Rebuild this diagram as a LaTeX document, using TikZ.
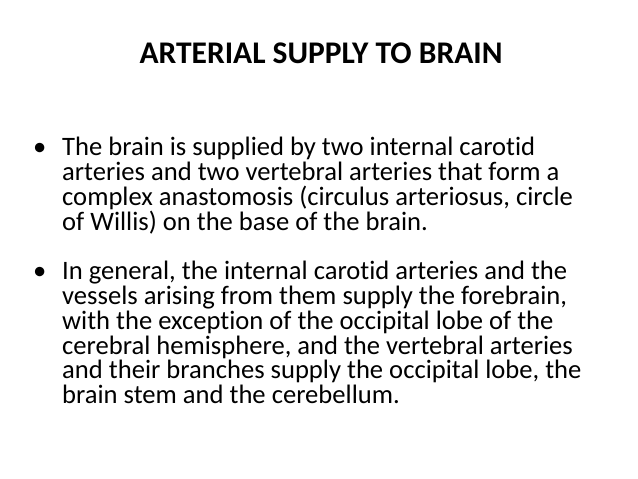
\documentclass[tikz,border=0pt]{standalone}
\usepackage{fontspec}
\setmainfont{Carlito}[RawFeature=-liga]
\begin{document}
\begin{tikzpicture}[x=1pt,y=-1pt,
  ln/.style={anchor=base west,inner sep=0,font=\fontsize{26.6}{30}\selectfont},
  bul/.style={anchor=base west,inner sep=0,font=\fontsize{26.6}{30}\selectfont}]
\useasboundingbox (0,0) rectangle (638,479);
\node[anchor=base,inner sep=0,font=\bfseries\fontsize{31.5}{36}\selectfont] (title) at (321,63) {ARTERIAL SUPPLY TO BRAIN};
\node[bul] (b1) at (33,155) {•};
\node[ln] (l1) at (62,155) {The brain is supplied by two internal carotid};
\node[ln] (l2) at (62,180) {arteries and two vertebral arteries that form a};
\node[ln] (l3) at (62,205) {complex anastomosis (circulus arteriosus, circle};
\node[ln] (l4) at (62,230) {of Willis) on the base of the brain.};
\node[bul] (b2) at (33,279) {•};
\node[ln] (m1) at (62,279) {In general, the internal carotid arteries and the};
\node[ln] (m2) at (62,304) {vessels arising from them supply the forebrain,};
\node[ln] (m3) at (62,329) {with the exception of the occipital lobe of the};
\node[ln] (m4) at (62,354) {cerebral hemisphere, and the vertebral arteries};
\node[ln] (m5) at (62,378) {and their branches supply the occipital lobe, the};
\node[ln] (m6) at (62,403) {brain stem and the cerebellum.};
\end{tikzpicture}
\end{document}
